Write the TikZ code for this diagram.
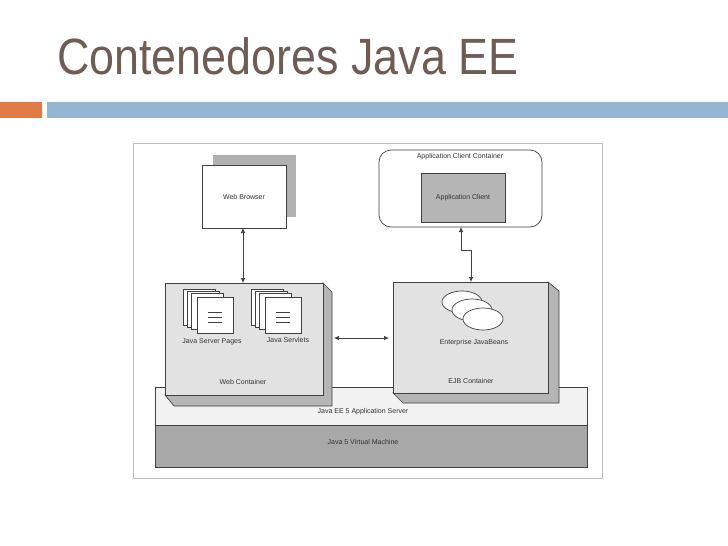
\documentclass[tikz,border=0pt]{standalone}
\usepackage{fontspec}
\setmainfont{Liberation Sans}
\usetikzlibrary{arrows.meta}
\definecolor{titlec}{HTML}{6E5C55}
\definecolor{orangec}{HTML}{E07B47}
\definecolor{bluec}{HTML}{94B6D2}
\definecolor{boxg}{HTML}{E2E2E2}
\definecolor{darkg}{HTML}{A8A8A8}
\definecolor{lightg}{HTML}{F2F2F2}
\begin{document}
\begin{tikzpicture}[x=1pt,y=-1pt,
  lbl/.style={font=\fontsize{7}{8}\selectfont, text=black!80, inner sep=0},
  ln/.style={draw=black!75, line width=0.7pt},
  arr/.style={ln, {Latex[length=5pt,width=4.5pt]}-{Latex[length=5pt,width=4.5pt]}}]
\useasboundingbox (0,0) rectangle (728,546);
% title
\node[anchor=base west, inner sep=0, text=titlec, font=\fontsize{51}{54}\selectfont] (title) at (57,74) {\scalebox{0.88}[1]{Contenedores Java EE}};
\fill[orangec] (0,102) rectangle (42,118);
\fill[bluec] (47,102) rectangle (728,118);
% frame
\draw[black!25, line width=1pt, fill=white] (133,143) rectangle (602,478);
% app server and VM
\draw[ln, fill=lightg] (155,387) rectangle (587,425);
\node[lbl] (as) at (363,412) {Java EE 5 Application Server};
\draw[ln, fill=darkg] (155,425) rectangle (587,467);
\node[lbl] (vm) at (363,442) {Java 5 Virtual Machine};
% web container 3D
\draw[ln, fill=boxg!80!black] (323,283) -- (332,292) -- (332,406) -- (174,406) -- (165,395) -- (323,395) -- cycle;
\draw[ln, fill=boxg] (165,283) rectangle (323,395);
\node[lbl] (wc) at (243,382) {Web Container};
% EJB container 3D
\draw[ln, fill=boxg!80!black] (548,282) -- (559,291) -- (559,403) -- (403,403) -- (393,393) -- (548,393) -- cycle;
\draw[ln, fill=boxg] (393,282) rectangle (548,393);
\node[lbl] (ejbc) at (471,381) {EJB Container};
% ellipses
\foreach \cx/\cy in {462/302, 472/310, 483/319}
  \draw[ln, fill=white] (\cx,\cy) ellipse (20 and 11);
\node[lbl] (eb) at (474,343) {Enterprise JavaBeans};
% document stacks
\foreach \ox in {183, 251} {
  \foreach \d in {0,4,8} \draw[ln, fill=white] (\ox+\d,289+\d/2) rectangle (\ox+\d+32,325+\d/2);
  \draw[ln, fill=white] (\ox+14,297) rectangle (\ox+50,333);
  \foreach \yy in {312,317,322} \draw[ln] (\ox+25,\yy) -- (\ox+39,\yy);
}
\node[lbl] (jsp) at (212,342) {Java Server Pages};
\node[lbl] (jsv) at (288,340) {Java Servlets};
% web browser
\fill[darkg!90] (213,155) rectangle (296,217);
\node[draw=black!75, line width=0.7pt, fill=white, minimum width=84, minimum height=63, lbl] (wb) at (244,196.5) {Web Browser};
% app client container
\draw[ln, rounded corners=12pt, fill=white] (379,150) rectangle (542,227);
\node[lbl] (acct) at (460,157) {Application Client Container};
\node[draw=black!75, line width=0.7pt, fill=darkg!85, minimum width=84, minimum height=49, lbl] (ac) at (463,197.5) {Application Client};
% connectors
\coordinate (wbb) at (243,228);
\coordinate (wct) at (243,283);
\draw[arr] (wbb) -- (wct);
\coordinate (hl) at (334,338);
\coordinate (hr) at (389,338);
\draw[arr] (hl) -- (hr);
\coordinate (acb) at (461,227);
\coordinate (ejt) at (471,282);
\draw[arr] (acb) -- (461,250) -- (471,250) -- (ejt);
\end{tikzpicture}
\end{document}
